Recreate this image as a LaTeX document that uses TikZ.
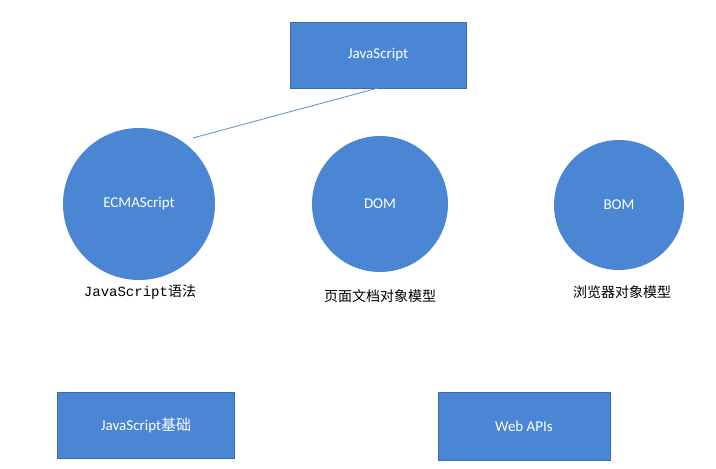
\documentclass[tikz,border=0pt]{standalone}
\usepackage{fontspec}
\setmainfont{Carlito}
\newfontfamily\cjk{Noto Sans CJK SC}
\setmonofont{Liberation Mono}
\usetikzlibrary{arrows.meta}
\definecolor{bl}{HTML}{4A86D4}
\definecolor{ln}{HTML}{6F96CF}
\begin{document}
\begin{tikzpicture}[x=1pt,y=-1pt,
 box/.style={fill=bl,draw=bl!80!black,line width=0.4pt,text=white,font=\fontsize{15}{17}\selectfont,inner sep=0pt},
 circ/.style={circle,fill=bl,text=white,font=\fontsize{15}{17}\selectfont,inner sep=0pt},
 lab/.style={font=\fontsize{14}{16}\selectfont,text=black},
 arr/.style={draw=ln,line width=0.9pt,-{Stealth[length=7pt,width=6pt]}},
 con/.style={draw=ln,line width=0.9pt}]
\useasboundingbox (0,0) rectangle (716,469);
\fill[white] (0,0) rectangle (716,469);
\node[box,minimum width=176pt,minimum height=66pt] (js) at (378,55) {JavaScript};
\node[circ,minimum size=152pt] (ecma) at (139,204) {ECMAScript};
\node[circ,minimum size=136pt] (dom) at (380,204) {DOM};
\node[circ,minimum size=130pt] (bom) at (619,205) {BOM};
\node[lab] (l1) at (140,292) {\texttt{JavaScript}\cjk 语法};
\node[lab] (l2) at (380,296) {\cjk 页面文档对象模型};
\node[lab] (l3) at (622,292) {\cjk 浏览器对象模型};
\node[box,minimum width=177pt,minimum height=66pt] (base) at (146,425) {JavaScript{\cjk 基础}};
\node[box,minimum width=172pt,minimum height=68pt] (web) at (524,426) {Web APIs};
\coordinate (s) at (378,88);
\draw[arr] (s) -- (ecma.north east|-0,138) -- cycle;
\end{tikzpicture}
\end{document}
